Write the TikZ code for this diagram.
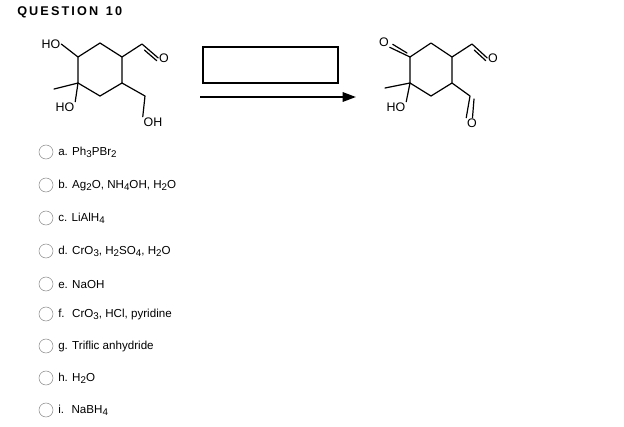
\documentclass[tikz,border=0pt]{standalone}
\usepackage{fontspec}
\setmainfont{Liberation Sans}
\usetikzlibrary{arrows.meta,calc}
\newcommand{\lsub}[1]{\raisebox{-0.35ex}{\fontsize{7.3}{8}\selectfont #1}}
\begin{document}
\begin{tikzpicture}[x=0.75pt,y=-0.75pt,
  bond/.style={line width=0.9pt,line cap=round,line join=round},
  atom/.style={inner sep=0.5pt,font=\fontsize{9.3}{10}\selectfont},
  opt/.style={anchor=west,inner sep=0,font=\fontsize{8.7}{10}\selectfont},
  radio/.style={circle,draw=black!45,fill=white,minimum size=10.5pt,inner sep=0}]
\useasboundingbox (0,0) rectangle (624,426);
\node[anchor=west,inner sep=0,font=\bfseries\fontsize{9.5}{11}\selectfont] (q) at (17,12) {Q\,U\,E\,S\,T\,I\,O\,N\, \,1\,0};
% left molecule
\coordinate (a1) at (78,57); \coordinate (a2) at (100,43); \coordinate (a3) at (122,57);
\coordinate (a4) at (122,83); \coordinate (a5) at (100,96); \coordinate (a6) at (78,83);
\draw[bond] (a1)--(a2)--(a3)--(a4)--(a5)--(a6)--cycle;
\node[atom] (ho1) at (51,44) {HO};
\draw[bond] (a1)--(ho1.east);
\coordinate (c1) at (142,44);
\node[atom] (o1) at (164,58) {O};
\draw[bond] (a3)--(c1)--(o1.west);
\draw[bond] ($(c1)!0.15!(o1.west)+(0,4)$) -- ($(c1)!0.9!(o1.west)+(0,4)$);
\coordinate (m1) at (54,89);
\draw[bond] (a6)--(m1);
\node[atom] (ho2) at (65,107) {HO};
\draw[bond] (a6)--(ho2.north east);
\coordinate (c2) at (145,96);
\node[atom] (oh1) at (153,122) {OH};
\draw[bond] (a4)--(c2)--(oh1.north west);
% box and arrow
\node[draw,line width=1.3pt,minimum width=101pt,minimum height=27pt,inner sep=0] (box) at (270.5,65) {};
\coordinate (s) at (200,97); \coordinate (e) at (356,97);
\draw[line width=1.6pt,-{Triangle[length=10pt,width=7pt]}] (s)--(e);
% right molecule
\coordinate (b1) at (410,57); \coordinate (b2) at (431,43); \coordinate (b3) at (452,57);
\coordinate (b4) at (452,83); \coordinate (b5) at (431,96); \coordinate (b6) at (410,83);
\draw[bond] (b1)--(b2)--(b3)--(b4)--(b5)--(b6)--cycle;
\node[atom] (o2) at (384,42) {O};
\draw[bond] (b1)--(o2.south east);
\draw[bond] ($(b1)+(-3,-4)$)--($(o2.south east)+(3,-3)$);
\coordinate (c3) at (472,44);
\node[atom] (o3) at (493,58) {O};
\draw[bond] (b3)--(c3)--(o3.west);
\draw[bond] ($(c3)!0.15!(o3.west)+(0,4)$) -- ($(c3)!0.9!(o3.west)+(0,4)$);
\coordinate (m2) at (385,88);
\draw[bond] (b6)--(m2);
\node[atom] (ho3) at (396,107) {HO};
\draw[bond] (b6)--(ho3.north east);
\coordinate (c4) at (470,96);
\node[atom] (o4) at (472,123) {O};
\draw[bond] (b4)--(c4)--(o4.north west);
\draw[bond] ($(c4)+(4,3)$)--($(o4.north)+(0.5,0)$);
% options
\foreach \y/\t [count=\i] in {152/{a. Ph\lsub{3}PBr\lsub{2}},
 185/{b. Ag\lsub{2}O, NH\lsub{4}OH, H\lsub{2}O},
 218/{c. LiAlH\lsub{4}},
 251/{d. CrO\lsub{3}, H\lsub{2}SO\lsub{4}, H\lsub{2}O},
 284/{e. NaOH},
 314/{f. \ CrO\lsub{3}, HCl, pyridine},
 346/{g. Triflic anhydride},
 378/{h. H\lsub{2}O},
 410/{i. \ NaBH\lsub{4}}}{
  \node[radio] (r\i) at (46,\y) {};
  \node[opt] (t\i) at (58,\y) {\t};
}
\end{tikzpicture}
\end{document}
